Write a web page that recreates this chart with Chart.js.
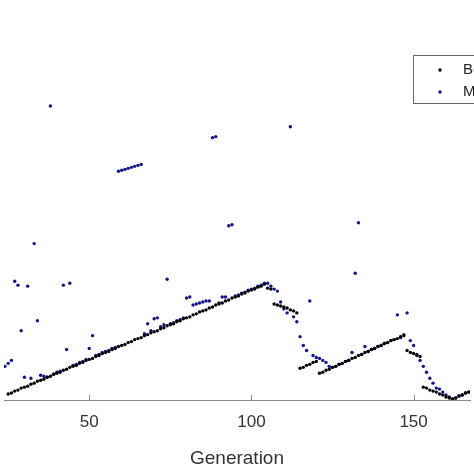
<!DOCTYPE html>
<html>
<head>
<meta charset="UTF-8">
<script src="https://cdn.jsdelivr.net/npm/chart.js"></script>
<style>
  html, body { margin: 0; padding: 0; background: #fff; }
  #wrap { width: 474px; height: 474px; }
</style>
</head>
<body>
<div id="wrap"><canvas id="chart" width="474" height="474"></canvas></div>
<script>
// generations 24..167 (x axis is cropped on both sides)
const firstGen = 24;
const xTicks = [50, 100, 150];
const seriesNames = ['Best', 'Mean'];

// best fitness per generation (null = not visible)
const best = [null,
  6,7,9,10,12, 13,14,16,17,19, 20,21,23,24,26, 27,28,30,31,33,
  34,35,37,38,40, 41,42,44,45,47, 48,49,51,52,54, 55,56,58,59,61,
  62,63,65,66,68, 69,70,72,73,75, 76,77,79,80,82, 83,84,86,87,89,
  90,91,93,94,96, 97,98,100,101,103, 104,105,107,108,110, 111,112,114,115,117,
  113,112,
  97,96,95,94,93,91,90,88,
  32,33,35,36,38,39,
  27,28,30,31,33,34,36,37,39,40,42,43,45,46,48,49,51,52,54,55,57,58,60,61,62,64,65,
  50,48,47,46,44,
  13,12,10,9,8,6,5,3,2,1,
  2,4,5,7,8];

// mean fitness per generation
const mean = [
  34,37,40,120,116,70,23,115,22,158,80,25,24,23,297,26,28,29,116,51,
  118,35,36,38,39,41,52,65,45,46,48,49,50,52,53,231,232,233,234,235,
  236,237,238,67,77,70,82,83,74,76,122,77,78,80,81,83,103,104,96,97,
  98,99,100,100,265,266,98,104,104,176,177,105,106,108,109,111,112,113,115,116,
  118,118,115,112,110,99,92,88,276,84,79,64,55,50,100,45,43,42,40,38,
  34,33,34,36,37,39,40,48,128,179,46,54,49,51,52,54,55,57,58,60,
  61,86,63,66,88,60,55,45,40,34,28,22,17,12,11,8,5,3,1,2,
  4,5,7,8];

const gens = best.map((_, i) => firstGen + i);
const toPts = arr => arr.map((v, i) => ({ x: gens[i], y: v })).filter(p => p.y !== null);

const axisColor = '#8a8a8a';

const inwardTicks = {
  id: 'inwardTicks',
  afterDraw(chart) {
    const ctx = chart.ctx, xs = chart.scales.x, bottom = chart.chartArea.bottom;
    ctx.save();
    ctx.strokeStyle = axisColor;
    ctx.lineWidth = 1;
    xTicks.forEach(t => {
      const px = Math.round(xs.getPixelForValue(t)) + 0.5;
      ctx.beginPath(); ctx.moveTo(px, bottom); ctx.lineTo(px, bottom - 5); ctx.stroke();
    });
    ctx.restore();
  }
};

const legendBox = {
  id: 'legendBox',
  afterDraw(chart) {
    const ctx = chart.ctx;
    ctx.save();
    ctx.fillStyle = '#fff';
    ctx.fillRect(413, 55, 80, 48);
    ctx.strokeStyle = '#666';
    ctx.lineWidth = 1;
    ctx.strokeRect(413.5, 55.5, 80, 48);
    ctx.font = '15px "Liberation Sans", Arial, sans-serif';
    ctx.textBaseline = 'middle';
    chart.data.datasets.forEach((ds, i) => {
      const y = 70 + i * 22;
      ctx.fillStyle = ds.backgroundColor;
      ctx.beginPath(); ctx.arc(440, y, 1.7, 0, Math.PI * 2); ctx.fill();
      ctx.fillStyle = '#222';
      ctx.fillText(ds.label, 463, y);
    });
    ctx.restore();
  }
};

new Chart(document.getElementById('chart'), {
  type: 'scatter',
  data: {
    datasets: [
      { label: seriesNames[0], data: toPts(best), backgroundColor: '#000', borderColor: '#000', pointRadius: 1.7, borderWidth: 0 },
      { label: seriesNames[1], data: toPts(mean), backgroundColor: '#14148a', borderColor: '#14148a', pointRadius: 1.7, borderWidth: 0 }
    ]
  },
  options: {
    responsive: false,
    animation: false,
    layout: { padding: 0 },
    plugins: { legend: { display: false }, tooltip: { enabled: false } },
    scales: {
      x: {
        type: 'linear', min: 23.7, max: 167.4,
        afterBuildTicks: s => { s.ticks = xTicks.map(v => ({ value: v })); },
        afterFit: s => { s.height = 74; },
        grid: { display: true, drawOnChartArea: false, tickLength: 0, color: axisColor },
        border: { color: axisColor, width: 1 },
        ticks: { color: '#333', padding: 12, font: { size: 17, family: 'Liberation Sans, Arial, sans-serif' } },
        title: { display: true, text: 'Generation', color: '#333', padding: { top: 2 }, font: { size: 19, family: 'Liberation Sans, Arial, sans-serif' } }
      },
      y: { display: false, min: 0, max: 400 }
    }
  },
  plugins: [inwardTicks, legendBox]
});
</script>
</body>
</html>
